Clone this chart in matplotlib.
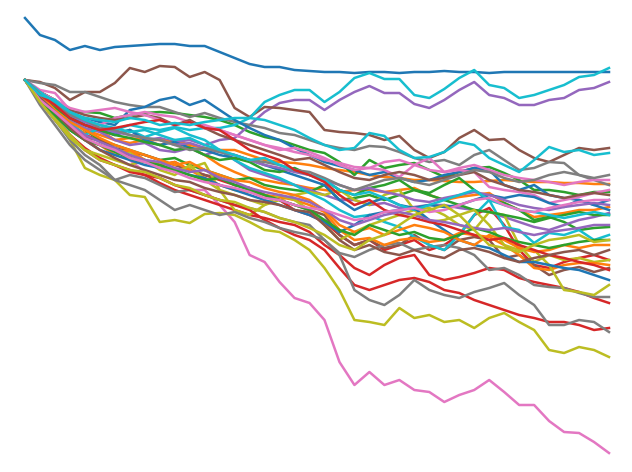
import numpy as np
import matplotlib
matplotlib.use('Agg')
import matplotlib.pyplot as plt

# simulated paths, 40 steps each, value relative to start (0)
path_00 = [62,45,40,30,34,30,33,34,35,36, 36,34,34,28,22,16,13,13,10,9, 8,8,7,8,8,7,8,8,9,8, 8,7,8,8,8,8,8,8,8,8]
path_01 = [0,-15,-25,-40,-50,-55,-60,-58,-60,-65, -60,-65,-68,-70,-70,-75,-80,-82,-83,-85, -88,-90,-92,-95,-97,-98,-100,-100,-101,-102, -102,-101,-100,-101,-102,-102,-103,-103,-104,-104]
path_02 = [0,-12,-20,-32,-32,-33,-38,-35,-33,-32, -33,-35,-37,-40,-45,-52,-57,-60,-65,-70, -73,-82,-95,-80,-88,-85,-83,-90,-97,-92, -88,-87,-93,-100,-110,-110,-112,-115,-112,-112]
path_03 = [0,-20,-35,-45,-55,-60,-70,-75,-80,-85, -82,-90,-95,-100,-105,-108,-115,-120,-130,-135, -142,-155,-165,-160,-170,-165,-160,-170,-165,-155, -135,-128,-145,-170,-185,-188,-182,-178,-175,-180]
path_04 = [0,-12,-20,-35,-45,-50,-55,-50,-60,-58, -62,-60,-65,-60,-58,-45,-32,-23,-20,-20, -30,-20,-12,-6,-13,-13,-24,-28,-20,-10, -2,-15,-18,-25,-25,-20,-18,-10,-8,-2]
path_05 = [0,-2,-8,-20,-12,-12,-3,12,8,14, 13,3,8,0,-28,-37,-27,-28,-30,-32, -50,-52,-53,-55,-60,-56,-70,-78,-72,-58, -50,-60,-59,-70,-78,-82,-75,-68,-70,-68]
path_06 = [0,-15,-25,-40,-50,-60,-70,-80,-92,-98, -105,-110,-110,-125,-142,-175,-182,-202,-218,-223, -240,-282,-305,-292,-305,-300,-310,-312,-322,-315, -310,-300,-312,-325,-325,-341,-352,-353,-362,-373]
path_07 = [0,-3,-5,-12,-12,-17,-22,-25,-27,-27, -32,-37,-33,-38,-42,-45,-48,-53,-55,-60, -65,-68,-70,-66,-67,-72,-78,-82,-80,-85, -75,-70,-80,-90,-88,-82,-83,-95,-100,-105]
path_08 = [0,-15,-35,-60,-88,-95,-100,-115,-117,-142, -140,-143,-134,-133,-135,-142,-150,-152,-160,-170, -188,-210,-240,-242,-245,-228,-238,-235,-242,-240, -248,-238,-233,-242,-250,-270,-273,-267,-270,-277]
path_09 = [0,-15,-20,-30,-45,-45,-50,-45,-48,-50, -47,-50,-48,-48,-45,-38,-22,-15,-10,-10, -22,-12,2,7,1,1,-15,-18,-9,2, 10,-5,-8,-18,-15,-10,-5,3,5,12]
path_10 = [0,-15,-20,-35,-38,-42,-45,-30,-27,-20, -17,-25,-20,-30,-40,-48,-55,-60,-68,-75, -82,-86,-90,-95,-92,-98,-102,-100,-95,-92, -88,-90,-105,-110,-105,-115,-118,-120,-125,-120]
path_11 = [0,-18,-30,-45,-53,-50,-60,-63,-60,-60, -63,-67,-75,-85,-92,-98,-100,-103,-105,-108, -110,-112,-110,-110,-112,-110,-108,-115,-120,-117, -115,-113,-123,-130,-137,-135,-133,-130,-130,-127]
path_12 = [0,-15,-30,-40,-50,-60,-65,-70,-75,-80, -78,-85,-90,-95,-100,-98,-105,-108,-110,-112, -105,-120,-118,-115,-120,-115,-110,-113,-105,-98, -110,-120,-123,-130,-140,-137,-142,-150,-148,-147]
path_13 = [0,-20,-40,-55,-70,-80,-85,-92,-95,-103, -110,-115,-120,-125,-130,-135,-138,-142,-145,-152, -165,-175,-188,-195,-185,-178,-175,-195,-200,-197, -193,-188,-190,-198,-202,-205,-208,-212,-218,-223]
path_14 = [0,-15,-28,-40,-48,-52,-60,-65,-63,-70, -72,-68,-75,-70,-80,-90,-95,-100,-105,-110, -115,-120,-120,-125,-123,-128,-127,-125,-125,-128, -130,-132,-137,-142,-147,-150,-145,-140,-137,-133]
path_15 = [0,-15,-30,-45,-58,-60,-68,-72,-75,-80, -85,-90,-95,-98,-105,-108,-115,-120,-125,-130, -135,-155,-165,-160,-168,-165,-155,-165,-170,-160, -157,-160,-178,-175,-185,-195,-190,-187,-192,-188]
path_16 = [0,-10,-13,-30,-40,-45,-38,-35,-32,-35, -37,-42,-45,-50,-55,-60,-65,-68,-72,-75, -80,-83,-87,-88,-90,-97,-85,-78,-92,-90, -92,-107,-110,-112,-115,-123,-120,-117,-113,-110]
path_17 = [0,-20,-40,-60,-75,-85,-100,-95,-98,-105, -112,-110,-115,-120,-125,-128,-132,-138,-142,-145, -160,-173,-177,-170,-165,-163,-170,-167,-165,-168, -175,-190,-188,-195,-205,-207,-208,-213,-217,-217]
path_18 = [0,-20,-35,-50,-60,-65,-70,-72,-80,-85, -90,-88,-83,-110,-130,-135,-125,-120,-115,-112, -115,-110,-120,-125,-115,-110,-130,-128,-135,-145, -150,-132,-135,-165,-182,-175,-180,-178,-182,-180]
path_19 = [0,-15,-30,-42,-55,-48,-53,-50,-57,-52, -48,-55,-60,-70,-80,-88,-93,-98,-105,-113, -120,-130,-137,-135,-142,-147,-157,-165,-170,-155, -135,-120,-147,-150,-163,-153,-155,-150,-160,-155]
path_20 = [0,-15,-25,-38,-45,-50,-55,-50,-60,-65, -62,-68,-70,-75,-78,-80,-85,-90,-95,-100, -105,-120,-130,-123,-118,-125,-128,-125,-127,-125, -120,-115,-118,-115,-117,-123,-127,-120,-125,-130]
path_21 = [0,-20,-32,-48,-60,-65,-75,-70,-80,-85, -82,-90,-98,-105,-110,-112,-115,-117,-120,-125, -132,-150,-160,-158,-165,-160,-158,-162,-160,-153, -155,-157,-165,-175,-188,-190,-185,-183,-183,-185]
path_22 = [0,-15,-28,-38,-45,-50,-55,-58,-62,-65, -70,-68,-75,-80,-78,-82,-90,-92,-88,-95, -100,-110,-115,-108,-105,-100,-110,-115,-120,-125, -130,-132,-135,-138,-142,-138,-135,-132,-135,-135]
path_23 = [0,-20,-38,-55,-68,-78,-85,-90,-95,-98, -105,-110,-115,-120,-125,-130,-140,-148,-155,-160, -170,-188,-205,-210,-205,-200,-198,-202,-210,-213, -220,-225,-230,-235,-238,-242,-242,-245,-250,-248]
path_24 = [0,-12,-22,-35,-42,-48,-52,-55,-58,-60, -65,-63,-68,-72,-75,-80,-85,-88,-92,-95, -100,-105,-110,-108,-112,-115,-120,-122,-118,-115, -112,-115,-120,-125,-128,-130,-127,-125,-123,-125]
path_25 = [0,-12,-20,-30,-35,-38,-40,-38,-35,-38, -45,-40,-48,-55,-60,-65,-70,-75,-80,-78, -85,-92,-98,-100,-95,-92,-95,-100,-98,-95, -92,-100,-105,-110,-112,-115,-118,-115,-113,-115]
path_26 = [0,-12,-20,-28,-32,-30,-28,-32,-35,-40, -45,-42,-48,-50,-55,-60,-65,-70,-68,-72, -78,-85,-90,-88,-82,-80,-85,-90,-92,-88, -85,-90,-95,-98,-100,-102,-105,-102,-100,-100]
path_27 = [0,-15,-25,-35,-40,-48,-50,-55,-58,-60, -65,-70,-68,-72,-75,-80,-82,-85,-90,-92, -98,-105,-110,-105,-100,-98,-102,-105,-100,-95, -90,-92,-98,-102,-100,-95,-92,-95,-98,-95]
path_28 = [0,-20,-38,-55,-70,-75,-80,-85,-80,-90, -95,-85,-100,-110,-115,-120,-125,-115,-120,-130, -145,-160,-152,-145,-140,-135,-130,-142,-140,-135, -130,-145,-165,-170,-170,-185,-210,-212,-215,-205]
path_29 = [0,-12,-22,-32,-40,-45,-48,-52,-50,-55, -60,-58,-65,-70,-75,-80,-78,-85,-90,-95, -100,-110,-115,-112,-118,-125,-130,-125,-120,-115, -110,-120,-125,-130,-132,-135,-138,-135,-132,-135]
path_30 = [0,-20,-35,-50,-60,-70,-75,-80,-85,-88, -90,-95,-98,-105,-110,-115,-120,-125,-130,-135, -142,-152,-145,-135,-132,-130,-128,-140,-150,-160, -165,-168,-175,-182,-182,-185,-188,-190,-195,-200]
path_31 = [0,-15,-30,-42,-50,-58,-65,-70,-75,-80, -85,-82,-90,-95,-100,-102,-108,-112,-115,-120, -130,-145,-152,-148,-155,-150,-145,-148,-152,-160, -165,-155,-160,-168,-172,-170,-165,-168,-165,-165]
path_32 = [0,-20,-35,-50,-60,-65,-72,-78,-82,-85, -90,-95,-100,-98,-105,-110,-115,-120,-125,-130, -140,-150,-155,-145,-150,-155,-152,-158,-160,-155, -148,-152,-158,-162,-165,-168,-165,-162,-160,-160]
path_33 = [0,-15,-25,-38,-45,-50,-48,-45,-42,-40, -45,-42,-48,-50,-60,-70,-75,-80,-90,-95, -102,-115,-125,-120,-130,-135,-138,-142,-145,-150, -155,-160,-158,-165,-170,-175,-178,-182,-185,-190]
path_34 = [0,-18,-32,-45,-55,-62,-68,-75,-80,-82, -88,-92,-90,-98,-102,-108,-112,-115,-118,-122, -130,-140,-145,-140,-135,-132,-135,-140,-142,-145, -148,-150,-148,-152,-155,-152,-150,-148,-145,-145]
path_35 = [0,-18,-32,-48,-60,-70,-78,-85,-90,-95, -100,-102,-108,-112,-115,-120,-122,-125,-130,-132, -145,-160,-170,-165,-172,-175,-170,-175,-178,-170, -168,-172,-178,-182,-178,-175,-172,-170,-175,-170]
path_36 = [0,-20,-32,-45,-58,-65,-70,-78,-82,-88, -92,-98,-102,-105,-108,-112,-118,-120,-125,-128, -130,-135,-140,-138,-132,-130,-128,-132,-130,-125, -120,-118,-125,-130,-132,-128,-125,-122,-120,-120]
path_37 = [0,-25,-45,-65,-80,-90,-100,-105,-110,-120, -130,-125,-130,-135,-132,-138,-142,-148,-152,-155, -160,-175,-210,-220,-225,-215,-200,-210,-215,-218, -212,-208,-203,-215,-225,-245,-245,-240,-242,-252]
path_38 = [0,-22,-40,-58,-70,-80,-85,-90,-92,-98, -105,-108,-115,-120,-122,-128,-132,-138,-142,-148, -155,-165,-170,-160,-155,-145,-135,-130,-125,-135, -150,-165,-168,-172,-165,-160,-158,-155,-162,-160]
path_39 = [0,-15,-20,-32,-38,-40,-42,-38,-40,-45, -43,-45,-42,-40,-38,-38,-40,-45,-50,-58, -65,-70,-68,-53,-56,-70,-78,-77,-72,-62, -65,-78,-85,-92,-80,-67,-72,-70,-75,-73]

paths = [path_00, path_01, path_02, path_03, path_04, path_05, path_06, path_07,
         path_08, path_09, path_10, path_11, path_12, path_13, path_14, path_15,
         path_16, path_17, path_18, path_19, path_20, path_21, path_22, path_23,
         path_24, path_25, path_26, path_27, path_28, path_29, path_30, path_31,
         path_32, path_33, path_34, path_35, path_36, path_37, path_38, path_39]

fig = plt.figure(figsize=(6.32, 4.72), dpi=100)
ax = fig.add_axes([25/632, 19/472, 584/632, 435/472])
for p in paths:
    ax.plot(np.arange(len(p)), p, lw=1.8, clip_on=False)
ax.set_xlim(0, 39)
ax.set_ylim(-373, 62)
ax.axis('off')
fig.savefig('out.png', dpi=100)
